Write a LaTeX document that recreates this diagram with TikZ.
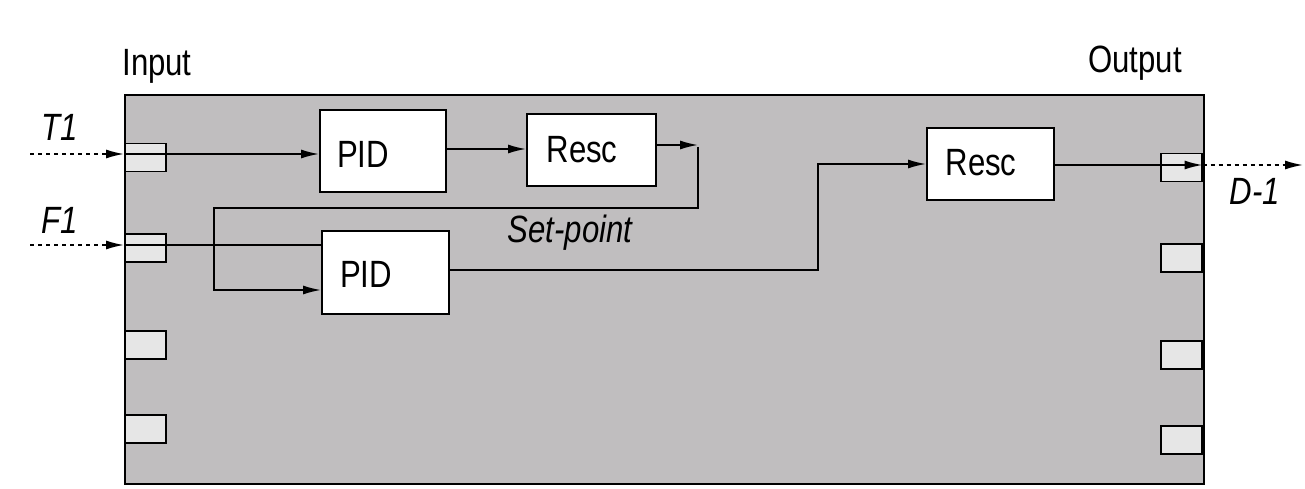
\documentclass[tikz,border=0pt]{standalone}
\usepackage{fontspec}
\setmainfont{Liberation Sans}
\usetikzlibrary{arrows.meta}
\definecolor{panel}{HTML}{C0BEBF}
\definecolor{port}{HTML}{E6E6E6}
\begin{document}
\begin{tikzpicture}[x=1pt,y=-1pt,
  blk/.style={draw,line width=2pt,fill=white,inner sep=0pt,anchor=north west},
  prt/.style={draw,line width=1.5pt,fill=port,inner sep=0pt,anchor=north west,minimum width=41pt,minimum height=28pt},
  lbl/.style={font=\fontsize{38}{40}\selectfont,xscale=0.82},
  ilbl/.style={font=\fontsize{38}{40}\selectfont\itshape,xscale=0.82},
  sig/.style={line width=1.6pt,-{Latex[length=18pt,width=9pt]}},
  dsig/.style={line width=1.6pt,dash pattern=on 4pt off 4pt,-{Latex[length=18pt,width=9pt]}}]
\useasboundingbox (0,0) rectangle (1305,489);
\node[draw,line width=2pt,fill=panel,anchor=north west,minimum width=1079pt,minimum height=389pt,inner sep=0pt] (panel) at (124,94) {};
% ports
\node[prt] (i1) at (124,143) {};
\node[prt] (i2) at (124,233) {};
\node[prt] (i3) at (124,330) {};
\node[prt] (i4) at (124,414) {};
\node[prt] (o1) at (1160,153) {};
\node[prt] (o2) at (1160,243) {};
\node[prt] (o3) at (1160,340) {};
\node[prt] (o4) at (1160,425) {};
\foreach \p in {o1,o2,o3,o4}{\draw[line width=4pt] (\p.north east) -- (\p.south east);}
% blocks
\node[blk,minimum width=126pt,minimum height=82pt] (pid1) at (319,109) {};
\node[lbl] at (363,154) {PID};
\node[blk,minimum width=129pt,minimum height=72pt] (resc1) at (526,113) {};
\node[lbl] at (582,150) {Resc};
\node[blk,minimum width=127pt,minimum height=83pt] (pid2) at (321,230) {};
\node[lbl] at (366,274) {PID};
\node[blk,minimum width=127pt,minimum height=72pt] (resc2) at (926,127) {};
\node[lbl] at (981,163) {Resc};
% labels
\node[lbl] (in) at (157,66) {Input};
\node[lbl] (out) at (1135,63) {Output};
\node[ilbl] (t1) at (60,127) {T1};
\node[ilbl] (f1) at (60,220) {F1};
\node[ilbl] (sp) at (570,233) {Set-point};
\node[ilbl] (d1) at (1255,191) {D-1};
% coordinates
\coordinate (t1s) at (30,154);
\coordinate (f1s) at (30,245);
\coordinate (sp1) at (698,145);
\coordinate (d1e) at (1303,165);
% connectors
\draw[dsig] (t1s) -- (i1.west |- t1s);
\draw[dsig] (f1s) -- (i2.west |- f1s);
\draw[sig] (i1.west |- t1s) -- (pid1.west |- t1s);
\draw[line width=1.6pt] (i2.west |- f1s) -- (pid2.west |- f1s);
\draw[sig] (pid1.east |- 0,149) -- (resc1.west |- 0,149);
\draw[sig] (resc1.east |- sp1) -- (sp1);
\draw[sig] (698,147) -- (698,208) -- (214,208) -- (214,290) -- (pid2.west |- 0,290);
\draw[sig] (pid2.east |- 0,270) -- (818,270) -- (818,164) -- (resc2.west |- 0,164);
\draw[sig] (resc2.east |- 0,165) -- (o1.east |- 0,165);
\draw[dsig] (o1.east |- 0,165) -- (d1e);
\end{tikzpicture}
\end{document}
